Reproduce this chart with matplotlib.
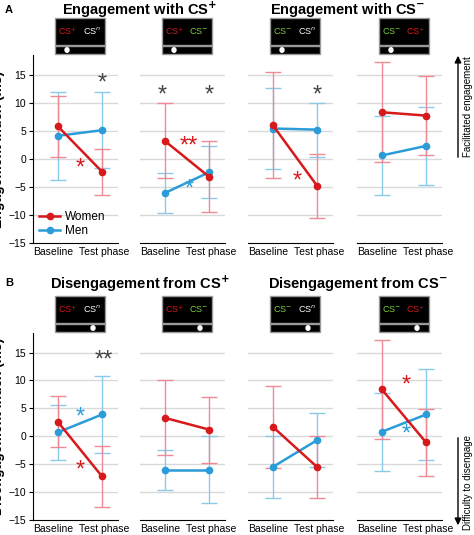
import numpy as np
import matplotlib.pyplot as plt
from matplotlib.patches import Rectangle, FancyArrowPatch

RED = '#d7191c'
BLUE = '#2b9cd8'
RED_L = '#ef8a94'
BLUE_L = '#8ccbe8'

phases = ['Baseline', 'Test phase']

# engagement (A): mean and half-width of error bar, [baseline, test]
eng_women = [[5.8, -2.3], [3.2, -3.2], [6.0, -4.8], [8.3, 7.7]]
eng_women_err = [[5.4, 4.1], [6.7, 6.3], [9.4, 5.7], [8.9, 7.0]]
eng_men = [[4.1, 5.1], [-6.1, -2.4], [5.4, 5.2], [0.6, 2.3]]
eng_men_err = [[7.8, 6.8], [3.6, 4.6], [7.2, 4.8], [7.0, 7.0]]

# disengagement (B)
dis_women = [[2.6, -7.2], [3.3, 1.2], [1.7, -5.5], [8.4, -1.1]]
dis_women_err = [[4.6, 5.4], [6.7, 5.9], [7.3, 5.5], [8.9, 6.0]]
dis_men = [[0.7, 3.9], [-6.0, -6.0], [-5.5, -0.7], [0.8, 3.9]]
dis_men_err = [[4.9, 6.9], [3.6, 6.0], [5.5, 4.8], [7.0, 8.2]]

# stimulus pairs shown above each panel
stim_pairs = [[('CS', '+', RED), ('CS', 'n', 'white')],
              [('CS', '+', RED), ('CS', '-', '#7ccf3a')],
              [('CS', '-', '#7ccf3a'), ('CS', 'n', 'white')],
              [('CS', '-', '#7ccf3a'), ('CS', '+', RED)]]

# asterisks: (panel, x, y, text, colour)
stars_a = [(0, 1.0, 13.5, '*', '#444444'), (0, 0.5, -1.8, '*', RED),
           (1, -0.05, 11.2, '*', '#444444'), (1, 1.0, 11.2, '*', '#444444'),
           (1, 0.55, 2.2, '**', RED), (1, 0.55, -5.5, '*', BLUE),
           (2, 1.0, 11.2, '*', '#444444'), (2, 0.55, -4.0, '*', RED)]
stars_b = [(0, 1.05, 13.5, '**', '#444444'), (0, 0.5, 3.3, '*', BLUE),
           (0, 0.5, -6.2, '*', RED), (3, 0.55, 9.0, '*', RED),
           (3, 0.55, 0.3, '*', BLUE)]

W, H = 474, 535
fig = plt.figure(figsize=(W / 100, H / 100), dpi=100)
plt.rcParams['font.family'] = 'Liberation Sans'

panel_x = [33, 140, 248, 357]
panel_w = 85


def px(x, y, w, h):
    return [x / W, 1 - (y + h) / H, w / W, h / H]


def draw_row(y_top, y_bot, women, women_err, men, men_err, stars, dot_right):
    axes = []
    for i, x0 in enumerate(panel_x):
        ax = fig.add_axes(px(x0, y_top, panel_w, y_bot - y_top))
        xs = np.array([0, 1])
        ax.errorbar(xs, men[i], yerr=men_err[i], fmt='none', ecolor=BLUE_L,
                    elinewidth=1, capsize=6, zorder=2)
        ax.errorbar(xs, women[i], yerr=women_err[i], fmt='none', ecolor=RED_L,
                    elinewidth=1, capsize=6, zorder=2)
        ax.plot(xs, women[i], '-o', color=RED, lw=1.8, ms=4.5, zorder=4,
                label='Women')
        ax.plot(xs, men[i], '-o', color=BLUE, lw=1.8, ms=4.5, zorder=3,
                label='Men')
        ax.set_xlim(-0.56, 1.36)
        ax.set_ylim(-15, 18.5)
        ax.set_yticks([15, 10, 5, 0, -5, -10, -15])
        for g in [15, 10, 5, 0, -5, -10]:
            ax.axhline(g, color='#d9d9d9', lw=1, zorder=0)
        ax.set_xticks([-0.1, 1.05])
        ax.set_xticklabels(phases, fontsize=7.5)
        ax.tick_params(axis='x', length=0, pad=3)
        for s in ['top', 'right']:
            ax.spines[s].set_visible(False)
        if i > 0:
            ax.spines['left'].set_visible(False)
            ax.set_yticks([])
        else:
            ax.tick_params(axis='y', labelsize=7.5, length=3, pad=2)
        for (p, sx, sy, t, c) in stars:
            if p == i:
                ax.text(sx, sy, t, color=c, fontsize=17, ha='center',
                        va='center', zorder=5)
        # stimulus picture
        bx = x0 + 22
        fig.patches.append(Rectangle((bx / W, 1 - (y_top - 10) / H),
                                     50 / W, 27 / H, transform=fig.transFigure,
                                     facecolor='black', edgecolor='#999999', lw=1))
        for j, (base, sup, col) in enumerate(stim_pairs[i]):
            fig.text((bx + 13 + j * 24) / W, 1 - (y_top - 24) / H,
                     base + '$^{' + sup + '}$', color=col, fontsize=6.5,
                     ha='center', va='center')
        fig.patches.append(Rectangle((bx / W, 1 - (y_top - 1) / H),
                                     50 / W, 8 / H, transform=fig.transFigure,
                                     facecolor='black', edgecolor='#999999', lw=1))
        dx = bx + (38 if dot_right else 12)
        fig.patches.append(plt.Circle((dx / W, 1 - (y_top - 5) / H), 2 / W,
                                      transform=fig.transFigure, color='white'))
        axes.append(ax)
    return axes


axa = draw_row(55, 243, eng_women, eng_women_err, eng_men, eng_men_err,
               stars_a, False)
axb = draw_row(333, 520, dis_women, dis_women_err, dis_men, dis_men_err,
               stars_b, True)

axa[0].set_ylabel('Engagement index (ms)', fontsize=10, fontweight='bold')
axb[0].set_ylabel('Disengagement index (ms)', fontsize=10, fontweight='bold')
axa[0].yaxis.set_label_coords(-0.33, 0.5)
axb[0].yaxis.set_label_coords(-0.33, 0.5)
axa[0].legend(loc='lower left', fontsize=8.5, frameon=False, handlelength=1.8,
              borderaxespad=0.1, labelspacing=0.2, handletextpad=0.4)

fig.text(5 / W, 1 - 10 / H, 'A', fontsize=8, fontweight='bold', va='center')
fig.text(5 / W, 1 - 283 / H, 'B', fontsize=8, fontweight='bold', va='center')
fig.text(140 / W, 1 - 10 / H, 'Engagement with CS$^{\\mathbf{+}}$', fontsize=10.5,
         fontweight='bold', ha='center', va='center')
fig.text(348 / W, 1 - 10 / H, 'Engagement with CS$^{\\mathbf{-}}$', fontsize=10.5,
         fontweight='bold', ha='center', va='center')
fig.text(140 / W, 1 - 284 / H, 'Disengagement from CS$^{\\mathbf{+}}$',
         fontsize=10.5, fontweight='bold', ha='center', va='center')
fig.text(358 / W, 1 - 284 / H, 'Disengagement from CS$^{\\mathbf{-}}$',
         fontsize=10.5, fontweight='bold', ha='center', va='center')

fig.patches.append(FancyArrowPatch((458 / W, 1 - 160 / H), (458 / W, 1 - 53 / H),
                                   transform=fig.transFigure, arrowstyle='-|>',
                                   mutation_scale=10, color='black', lw=1))
fig.text(468 / W, 1 - 107 / H, 'Facilitated engagement', rotation=90,
         fontsize=7, ha='center', va='center')
fig.patches.append(FancyArrowPatch((458 / W, 1 - 435 / H), (458 / W, 1 - 528 / H),
                                   transform=fig.transFigure, arrowstyle='-|>',
                                   mutation_scale=10, color='black', lw=1))
fig.text(468 / W, 1 - 482 / H, 'Difficulty to disengage', rotation=90,
         fontsize=7, ha='center', va='center')

fig.savefig('out.png', dpi=100)
